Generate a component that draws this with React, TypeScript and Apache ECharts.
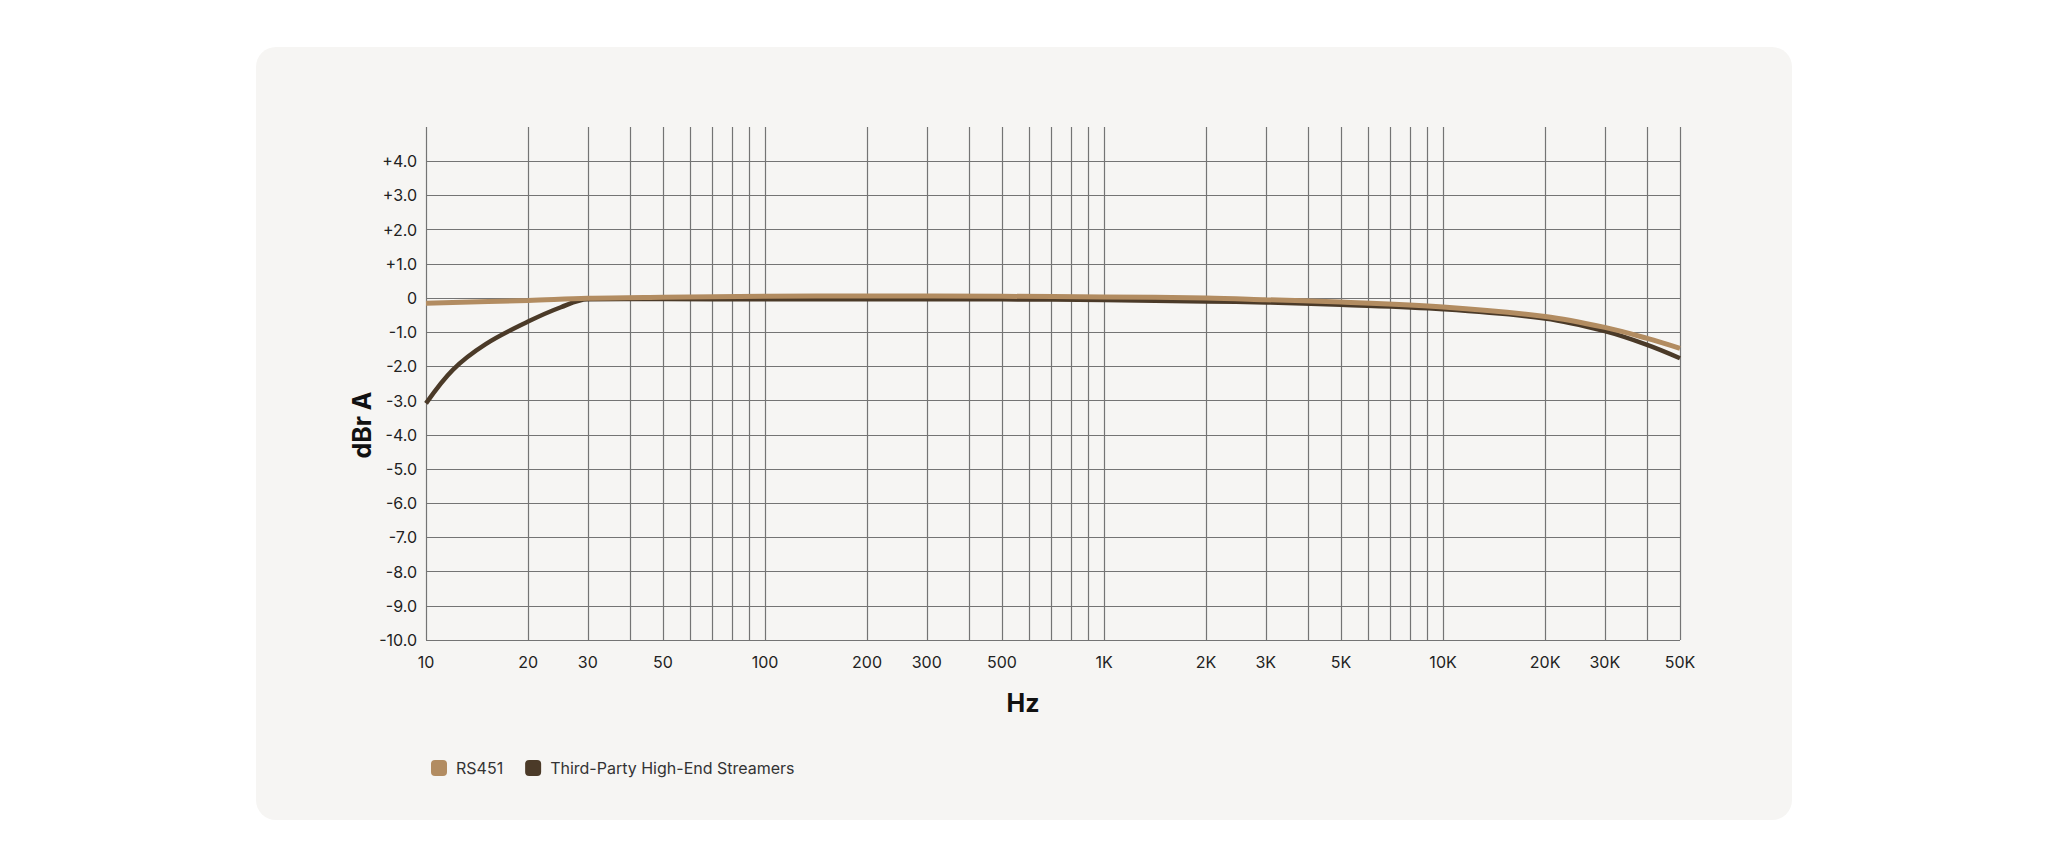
import React, { useEffect, useRef } from 'react';
import * as echarts from 'echarts';

// frequency response
const rsHz = [10, 20, 30, 50, 100, 200, 500, 1000, 2000, 3000, 5000, 10000, 20000, 30000, 40000, 50000];
const rsDb = [-0.15, -0.07, -0.01, 0.02, 0.05, 0.06, 0.05, 0.03, 0.0, -0.05, -0.12, -0.26, -0.54, -0.86, -1.18, -1.47];

const tpHz = [10, 12, 15, 20, 25, 30, 50, 100, 200, 500, 1000, 2000, 3000, 5000, 10000, 20000, 30000, 40000, 50000];
const tpDb = [-3.08, -2.1, -1.35, -0.69, -0.27, -0.04, -0.03, -0.04, -0.04, -0.04, -0.06, -0.1, -0.13, -0.2, -0.33, -0.6, -0.97, -1.37, -1.76];

// vertical grid lines and the labelled ones
const gridHz = [10, 20, 30, 40, 50, 60, 70, 80, 90, 100, 200, 300, 400, 500, 600, 700, 800, 900, 1000, 2000, 3000, 4000, 5000, 6000, 7000, 8000, 9000, 10000, 20000, 30000, 40000, 50000];
const labelHz = [10, 20, 30, 50, 100, 200, 300, 500, 1000, 2000, 3000, 5000, 10000, 20000, 30000, 50000];

const seriesNames = ['RS451', 'Third-Party High-End Streamers'];
const seriesColors = ['#b28c61', '#4b3a28'];

const FONT = 'Inter, "Noto Sans", sans-serif';
const GRID_COLOR = '#747474';

const fmtHz = (v: number) => {
  const f = Math.round(Math.pow(10, v));
  return f >= 1000 ? `${f / 1000}K` : `${f}`;
};

const fmtDb = (v: number) => (v > 0 ? `+${v.toFixed(1)}` : v === 0 ? '0' : v.toFixed(1));

const App: React.FC = () => {
  const chartRef = useRef<HTMLDivElement>(null);

  useEffect(() => {
    if (!chartRef.current) return;
    const chart = echarts.init(chartRef.current, undefined, { renderer: 'svg' });

    const option: echarts.EChartsOption = {
      animation: false,
      textStyle: { fontFamily: FONT },
      grid: { left: 426, top: 127, width: 1254, height: 513 },
      xAxis: {
        type: 'value',
        min: Math.log10(10),
        max: Math.log10(50000),
        axisLine: { show: false },
        axisTick: { show: false, customValues: gridHz.map(Math.log10) } as any,
        axisLabel: {
          customValues: labelHz.map(Math.log10),
          formatter: fmtHz,
          margin: 14,
          fontSize: 16,
          color: '#222',
          fontFamily: FONT,
          hideOverlap: false
        } as any,
        splitLine: { show: true, lineStyle: { color: GRID_COLOR, width: 1.2 } }
      },
      yAxis: {
        type: 'value',
        min: -10,
        max: 5,
        interval: 1,
        axisLine: { show: false },
        axisTick: { show: false },
        axisLabel: {
          formatter: fmtDb,
          showMaxLabel: false,
          margin: 9,
          fontSize: 16,
          color: '#222',
          fontFamily: FONT
        },
        splitLine: { show: true, showMaxLine: false, lineStyle: { color: GRID_COLOR, width: 1.2 } } as any
      },
      legend: {
        left: 426,
        top: 755,
        icon: 'roundRect',
        itemWidth: 16,
        itemHeight: 16,
        itemGap: 22,
        data: seriesNames,
        textStyle: { fontSize: 16, color: '#333', fontFamily: FONT, padding: [0, 0, 0, 4] }
      },
      graphic: [
        {
          type: 'text',
          x: 1023,
          y: 703,
          style: {
            text: 'Hz',
            fontSize: 25,
            fontWeight: 'bold',
            fontFamily: FONT,
            fill: '#111',
            align: 'center',
            verticalAlign: 'middle'
          }
        },
        {
          type: 'text',
          x: 362,
          y: 425,
          rotation: Math.PI / 2,
          style: {
            text: 'dBr A',
            fontSize: 25,
            fontWeight: 'bold',
            fontFamily: FONT,
            fill: '#111',
            align: 'center',
            verticalAlign: 'middle'
          }
        }
      ],
      series: [
        {
          name: seriesNames[1],
          type: 'line',
          smooth: 0.35,
          showSymbol: false,
          data: tpHz.map((f, i) => [Math.log10(f), tpDb[i]]),
          itemStyle: { color: seriesColors[1] },
          lineStyle: { color: seriesColors[1], width: 4.5 }
        },
        {
          name: seriesNames[0],
          type: 'line',
          smooth: 0.35,
          showSymbol: false,
          data: rsHz.map((f, i) => [Math.log10(f), rsDb[i]]),
          itemStyle: { color: seriesColors[0] },
          lineStyle: { color: seriesColors[0], width: 5 }
        }
      ]
    };

    chart.setOption(option);

    return () => {
      chart.dispose();
    };
  }, []);

  return (
    <div style={{ position: 'absolute', left: 0, top: 0, width: 2048, height: 851, background: '#ffffff' }}>
      <div
        style={{
          position: 'absolute',
          left: 256,
          top: 47,
          width: 1536,
          height: 773,
          borderRadius: 20,
          background: '#f6f5f3'
        }}
      />
      <div ref={chartRef} style={{ position: 'absolute', left: 0, top: 0, width: 2048, height: 851 }} />
    </div>
  );
};

export default App;
